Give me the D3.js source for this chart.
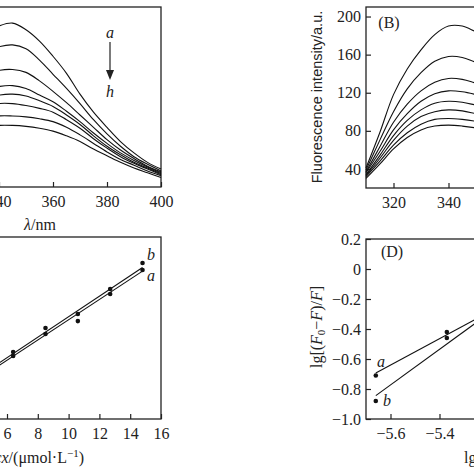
<!DOCTYPE html>
<html>
<head>
<meta charset="utf-8">
<script src="https://cdn.jsdelivr.net/npm/d3@7"></script>
<style>
  body { margin: 0; background: #fff; }
  svg { display: block; }
</style>
</head>
<body>
<div id="chart"></div>
<script>
// ---- data ----
var curveNames = ["a", "b", "c", "d", "e", "f", "g", "h"];

// (A) emission spectra, right part visible
var wavelengthA = [335, 340, 345, 350, 355, 360, 365, 370, 375, 380, 385, 390, 395, 400];
var spectraA = [
  [183, 190, 193, 186, 174, 158, 140, 118, 99, 83, 68, 56, 46, 39],
  [162, 168, 170, 166, 154, 139, 124, 108, 91, 76, 63, 52, 44, 37],
  [138, 143, 144, 141, 132, 121, 109, 96, 83, 70, 59, 50, 42, 36],
  [122, 126, 127, 124, 117, 110, 100, 89, 77, 66, 56, 48, 41, 35],
  [113, 117, 118, 116, 111, 105, 96, 86, 74, 63, 54, 46, 40, 34],
  [104, 108, 108, 106, 103, 99, 91, 82, 71, 61, 52, 45, 39, 33],
  [92, 95, 95, 94, 92, 89, 83, 75, 66, 57, 49, 43, 37, 32],
  [83, 85, 85, 84, 82, 79, 74, 68, 60, 53, 46, 40, 35, 30]
];

// (B) emission spectra, left part visible
var wavelengthB = [310, 315, 320, 325, 330, 335, 340, 345, 350, 355];
var spectraB = [
  [41, 78, 118, 145, 165, 181, 190, 190, 184, 178],
  [39, 70, 100, 124, 141, 153, 158, 157, 152, 148],
  [37, 63, 89, 108, 122, 131, 135, 134, 130, 126],
  [36, 58, 81, 98, 111, 119, 122, 121, 118, 114],
  [34, 54, 75, 91, 102, 109, 111, 110, 107, 104],
  [33, 51, 70, 85, 95, 100, 102, 101, 98, 95],
  [32, 48, 65, 78, 87, 92, 93, 92, 90, 87],
  [30, 45, 61, 73, 81, 85, 86, 85, 83, 80]
];

// (C) Stern-Volmer plot
var concC = [2.1, 4.3, 6.4, 8.5, 10.6, 12.7, 14.8];
var ratioCa = [1.01, 1.12, 1.246, 1.367, 1.477, 1.587, 1.719];
var ratioCb = [1.02, 1.14, 1.268, 1.400, 1.438, 1.614, 1.757];

// (D) double-log plot
var lgConcD = [-5.66, -5.37, -5.19, -5.07, -4.97, -4.90, -4.83];
var lgRatioDa = [-0.71, -0.42, -0.27, -0.17, -0.09, -0.03, 0.03];
var lgRatioDb = [-0.88, -0.46, -0.27, -0.13, -0.03, 0.05, 0.12];

// tick values
var ticksWave = [320, 340, 360, 380, 400];
var ticksIntensity = [40, 80, 120, 160, 200];
var ticksConc = [0, 2, 4, 6, 8, 10, 12, 14, 16];
var ticksRatio = [1.0, 1.2, 1.4, 1.6, 1.8];
var ticksLgConc = [-5.6, -5.4, -5.2, -5.0, -4.8];
var ticksLgRatio = [-1.0, -0.8, -0.6, -0.4, -0.2, 0, 0.2];

// ---- drawing ----
var width = 474, height = 474;
var serif = "'Liberation Serif', 'Times New Roman', serif";
var sans = "'Liberation Sans', Arial, sans-serif";
var ink = "#222";

var svg = d3.select("#chart").append("svg")
  .attr("width", width)
  .attr("height", height);

function minus(s) { return String(s).replace("-", "\u2212"); }

// only ticks that land in (or touch) the window
function inView(scale, ticks, lo, hi) {
  return ticks.filter(t => scale(t) > lo && scale(t) < hi);
}

// builds one panel: frame, inward ticks on bottom and left
function makePanel(o) {
  var x = d3.scaleLinear().domain(o.xDomain).range(o.xRange);
  var y = d3.scaleLinear().domain(o.yDomain).range(o.yRange);
  var g = svg.append("g");

  var bottom = d3.axisBottom(x)
    .tickValues(inView(x, o.xTicks, -12, width + 12))
    .tickSizeInner(-5)
    .tickSizeOuter(0)
    .tickPadding(9)
    .tickFormat(o.xFormat || (d => minus(d)));

  var gx = g.append("g")
    .attr("transform", `translate(0, ${o.yRange[0]})`)
    .call(bottom);
  var axes = [gx];

  if (o.xRange[0] > 0) {
    var left = d3.axisLeft(y)
      .tickValues(o.yTicks)
      .tickSizeInner(-5)
      .tickSizeOuter(0)
      .tickPadding(5)
      .tickFormat(o.yFormat || (d => minus(d)));
    axes.push(g.append("g")
      .attr("transform", `translate(${o.xRange[0]}, 0)`)
      .call(left));
  }

  axes.forEach(function(a) {
    a.select(".domain").remove();
    a.selectAll("line").attr("stroke", ink).attr("stroke-width", 1.2);
    a.selectAll("text")
      .attr("fill", ink)
      .style("font-family", serif)
      .style("font-size", "16px");
  });

  g.append("rect")
    .attr("x", o.xRange[0])
    .attr("y", o.yRange[1])
    .attr("width", o.xRange[1] - o.xRange[0])
    .attr("height", o.yRange[0] - o.yRange[1])
    .attr("fill", "none")
    .attr("stroke", ink)
    .attr("stroke-width", 1.3);

  return { x: x, y: y, g: g };
}

function drawSpectra(p, waves, spectra) {
  var line = d3.line()
    .x((d, i) => p.x(waves[i]))
    .y(d => p.y(d))
    .curve(d3.curveCatmullRom);
  p.g.selectAll("path.spec")
    .data(spectra)
    .enter()
    .append("path")
    .attr("class", "spec")
    .attr("d", line)
    .attr("fill", "none")
    .attr("stroke", "#111")
    .attr("stroke-width", 1.1);
}

// least squares line through a series
function fit(xs, ys) {
  var mx = d3.mean(xs), my = d3.mean(ys);
  var sxy = d3.sum(xs, (v, i) => (v - mx) * (ys[i] - my));
  var sxx = d3.sum(xs, v => (v - mx) * (v - mx));
  var m = sxy / sxx;
  return { m: m, b: my - m * mx };
}

function drawFit(p, xs, ys) {
  var f = fit(xs, ys);
  var x0 = xs[0], x1 = xs[xs.length - 1];
  p.g.append("line")
    .attr("x1", p.x(x0)).attr("y1", p.y(f.m * x0 + f.b))
    .attr("x2", p.x(x1)).attr("y2", p.y(f.m * x1 + f.b))
    .attr("stroke", "#111")
    .attr("stroke-width", 1.1);
  p.g.selectAll(null)
    .data(xs)
    .enter()
    .append("circle")
    .attr("cx", d => p.x(d))
    .attr("cy", (d, i) => p.y(ys[i]))
    .attr("r", 2.3)
    .attr("fill", "#111");
}

function label(x, y, txt, opts) {
  opts = opts || {};
  return svg.append("text")
    .attr("x", x)
    .attr("y", y)
    .attr("text-anchor", opts.anchor || "middle")
    .attr("fill", ink)
    .style("font-family", opts.family || serif)
    .style("font-size", (opts.size || 15) + "px")
    .style("font-style", opts.italic ? "italic" : "normal")
    .text(txt);
}

// (A)
var pA = makePanel({
  xDomain: [310, 400], xRange: [-82, 161],
  yDomain: [20, 210], yRange: [187, 7],
  xTicks: ticksWave, yTicks: ticksIntensity
});
drawSpectra(pA, wavelengthA, spectraA);

label(110, 38, curveNames[0], { italic: true, size: 16 });
label(110, 97, curveNames[7], { italic: true, size: 16 });
svg.append("line")
  .attr("x1", 110).attr("y1", 42)
  .attr("x2", 110).attr("y2", 72)
  .attr("stroke", ink).attr("stroke-width", 1.2);
svg.append("path")
  .attr("d", "M106,70 L114,70 L110,80 Z")
  .attr("fill", ink);

var lamA = label(40, 230, "", { size: 16 });
lamA.append("tspan").style("font-style", "italic").text("\u03bb");
lamA.append("tspan").text("/nm");

// (B)
var pB = makePanel({
  xDomain: [310, 400], xRange: [366, 613.5],
  yDomain: [20, 210], yRange: [188, 7],
  xTicks: ticksWave, yTicks: ticksIntensity
});
drawSpectra(pB, wavelengthB, spectraB);
label(389, 28, "(B)", { size: 16 });

svg.append("text")
  .attr("transform", "translate(322, 97) rotate(-90)")
  .attr("text-anchor", "middle")
  .attr("fill", ink)
  .style("font-family", sans)
  .style("font-size", "14.5px")
  .text("Fluorescence intensity/a.u.");

// (C)
var pC = makePanel({
  xDomain: [0, 16], xRange: [-85.4, 161],
  yDomain: [0.9, 1.9], yRange: [419, 237],
  xTicks: ticksConc, yTicks: ticksRatio,
  yFormat: d => d.toFixed(1)
});
drawFit(pC, concC, ratioCa);
drawFit(pC, concC, ratioCb);
label(151, 260, curveNames[1], { italic: true, size: 16 });
label(151, 281, curveNames[0], { italic: true, size: 16 });

var xTitleC = label(84, 463, "", { anchor: "end", size: 16 });
xTitleC.append("tspan").style("font-style", "italic").text("c");
xTitleC.append("tspan").style("font-style", "italic").text("x");
xTitleC.append("tspan").text("/(\u03bcmol\u00b7L");
xTitleC.append("tspan").attr("dy", -6).style("font-size", "11px").text("\u22121");
xTitleC.append("tspan").attr("dy", 6).text(")");

// (D)
var pD = makePanel({
  xDomain: [-5.7, -4.7], xRange: [366, 611],
  yDomain: [-1.0, 0.2], yRange: [419, 239],
  xTicks: ticksLgConc, yTicks: ticksLgRatio,
  xFormat: d => minus(d.toFixed(1)),
  yFormat: d => d === 0 ? "0" : minus(d.toFixed(1))
});
drawFit(pD, lgConcD, lgRatioDa);
drawFit(pD, lgConcD, lgRatioDb);
label(392, 257, "(D)", { size: 16 });
label(381, 367, curveNames[0], { italic: true, size: 16 });
label(387, 406, curveNames[1], { italic: true, size: 16 });

var yTitleD = svg.append("text")
  .attr("transform", "translate(322, 327) rotate(-90)")
  .attr("text-anchor", "middle")
  .attr("fill", ink)
  .style("font-family", serif)
  .style("font-size", "16px");
yTitleD.append("tspan").text("lg[(");
yTitleD.append("tspan").style("font-style", "italic").text("F");
yTitleD.append("tspan").attr("dy", 3).style("font-size", "11px").text("0");
yTitleD.append("tspan").attr("dy", -3).text("\u2212");
yTitleD.append("tspan").style("font-style", "italic").text("F");
yTitleD.append("tspan").text(")/");
yTitleD.append("tspan").style("font-style", "italic").text("F");
yTitleD.append("tspan").text("]");

var xTitleD = label(464, 463, "", { anchor: "start", size: 16 });
xTitleD.append("tspan").text("lg[");
xTitleD.append("tspan").style("font-style", "italic").text("c");
xTitleD.append("tspan").text("/(mol\u00b7L\u207b\u00b9)]");
</script>
</body>
</html>
